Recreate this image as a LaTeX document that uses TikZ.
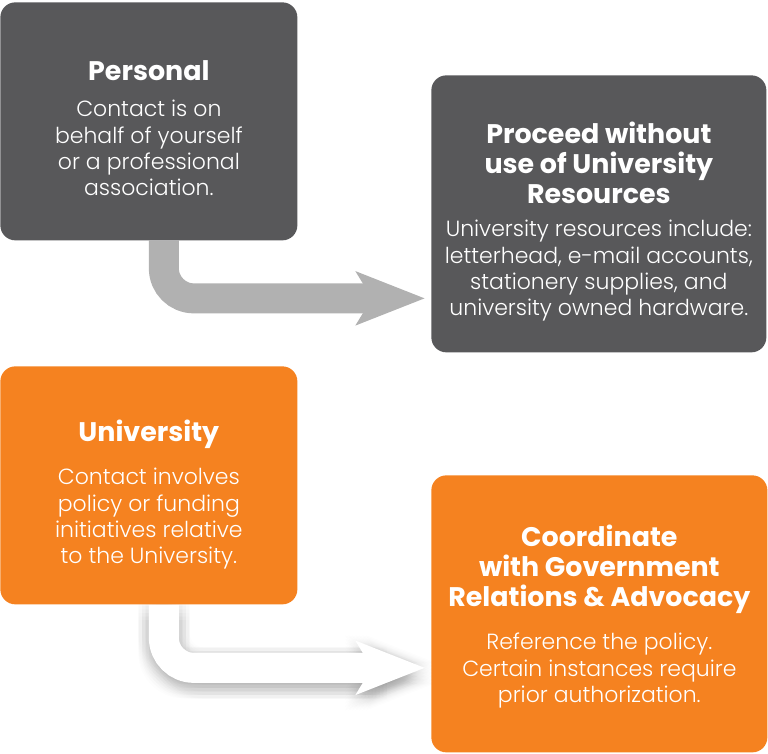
\documentclass[tikz,border=0pt]{standalone}
\usepackage{fontspec}
\setmainfont{Poppins}
\newfontfamily\bookfont{Poppins Light}
\usetikzlibrary{arrows.meta,positioning,calc}
\pgfdeclarelayer{background}
\pgfsetlayers{background,main}
\definecolor{slate}{HTML}{58585A}
\definecolor{amber}{HTML}{F58220}
\definecolor{pipe}{HTML}{B1B1B1}

\begin{document}
\begin{tikzpicture}[
  line cap=butt, line join=round,
  card/.style={rounded corners=0.3cm, inner sep=0pt, anchor=north west},
  ttl/.style={font=\fontsize{15.3}{17}\selectfont\bfseries, text=white,
              align=center, anchor=north, inner sep=0pt},
  txt/.style={font=\bookfont\fontsize{12.5}{14.9}\selectfont, text=white,
              align=center, anchor=north, inner sep=0pt},
  flow/.style={line width=0.6cm, rounded corners=0.6cm, shorten >=0.12cm,
               -{Stealth[length=1.36cm, width=1.04cm, inset=0.3cm]}}]

\useasboundingbox (0,0) rectangle (15.36,15.06);

% ==================================================== top row: personal
\node[card, fill=slate, minimum width=5.94cm, minimum height=4.76cm]
  (personal) at (0,15.02) {};
\node[ttl] (personal-t) at ([yshift=-1.16cm]personal.north) {Personal};
\node[txt] (personal-b) at ([yshift=-1.96cm]personal.north)
  {Contact is on\\ behalf of yourself\\ or a professional\\ association.};

\node[card, fill=slate, minimum width=6.7cm, minimum height=5.54cm]
  (proceed) at (8.62,13.56) {};
\node[ttl] (proceed-t) at ([yshift=-0.94cm]proceed.north)
  {Proceed without\\ use of University\\ Resources};
\node[txt] (proceed-b) at ([yshift=-2.90cm]proceed.north)
  {University resources include:\\ letterhead, e-mail accounts,\\
   stationery supplies, and\\ university owned hardware.};

% ==================================================== bottom row: university
\node[card, fill=amber, minimum width=5.94cm, minimum height=4.76cm]
  (university) at (0,7.74) {};
\node[ttl] (university-t) at ([yshift=-1.08cm]university.north) {University};
\node[txt] (university-b) at ([yshift=-2.04cm]university.north)
  {Contact involves\\ policy or funding\\ initiatives relative\\ to the University.};

\node[card, fill=amber, minimum width=6.72cm, minimum height=5.54cm]
  (govrel) at (8.62,5.56) {};
\node[ttl] (govrel-t) at ([yshift=-1.00cm]govrel.north)
  {Coordinate\\ with Government\\ Relations \& Advocacy};
\node[txt] (govrel-b) at ([yshift=-3.16cm]govrel.north)
  {Reference the policy.\\ Certain instances require\\ prior authorization.};

% the two bent arrows, behind the cards
\begin{pgfonlayer}{background}
  \draw[flow, pipe] ([xshift=0.3cm]personal.center |- personal.south)
    |- ([yshift=-1.69cm]proceed.west);
  % soft shadow under the white arrow
  \foreach \dx in {-0.21,-0.14,-0.07,0,0.07,0.14,0.21}
    \foreach \dy in {-0.21,-0.14,-0.07,0,0.07,0.14,0.21}
      \draw[flow, black, opacity=0.009,
            transform canvas={shift={(\dx,\dy-0.1)}}]
        ([xshift=0.3cm]university.south) |- ([yshift=-1.08cm]govrel.west);
  \draw[flow, white] ([xshift=0.3cm]university.south)
    |- ([yshift=-1.08cm]govrel.west);
\end{pgfonlayer}

\end{tikzpicture}
\end{document}
